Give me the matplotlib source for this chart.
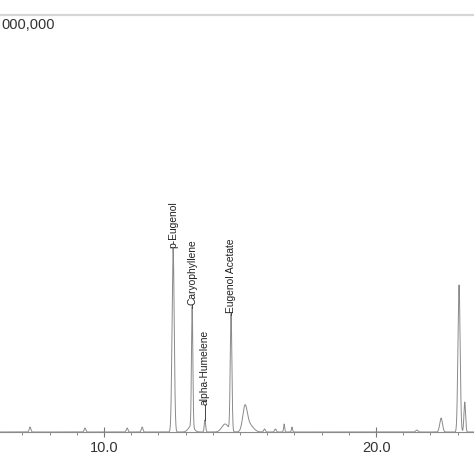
#!/usr/bin/env python3
"""GC chromatogram of clove oil constituents (recreated trace)."""

import matplotlib
matplotlib.use('Agg')
import matplotlib.pyplot as plt
from matplotlib.ticker import FixedLocator
import numpy as np

plt.rcParams.update({
    'font.family': ['Liberation Sans', 'DejaVu Sans'],
})

# Peak table (retention time in min, height and width in
# arbitrary intensity units / min)
peak_times = [7.28, 9.30, 10.85, 11.40, 12.54, 13.20, 13.24, 13.71, 14.45,
              14.67, 15.18, 15.32, 15.90, 16.30, 16.62, 16.91, 21.50,
              22.39, 23.05, 23.26]
peak_heights = [0.05, 0.04, 0.04, 0.05, 1.84, 0.06, 1.20, 0.12, 0.08,
                1.17, 0.22, 0.08, 0.03, 0.03, 0.08, 0.05, 0.02,
                0.14, 1.47, 0.30]
peak_widths = [0.03, 0.03, 0.03, 0.03, 0.04, 0.10, 0.025, 0.025, 0.12,
               0.03, 0.08, 0.15, 0.03, 0.03, 0.02, 0.02, 0.04,
               0.05, 0.04, 0.03]

# Annotated compounds
label_names = ['p-Eugenol', 'Caryophyllene', 'alpha-Humelene', 'Eugenol Acetate']
label_times = [12.54, 13.24, 13.71, 14.67]
label_peak = [1.84, 1.24, 0.12, 1.17]
label_top = [1.84, 1.27, 0.27, 1.19]

major_ticks = [10.0, 20.0]
minor_ticks = [7, 8, 9, 11, 12, 13, 14, 15, 16, 17, 18, 19, 21, 22, 23]

t = np.linspace(6.0, 24.0, 12000)
signal = np.zeros_like(t)
for t0, h, w in zip(peak_times, peak_heights, peak_widths):
    signal += h * np.exp(-0.5 * ((t - t0) / w) ** 2)

fig = plt.figure(figsize=(4.74, 4.74), dpi=100)
ax = fig.add_axes([0, 42 / 474, 1, 417 / 474])

ax.plot(t, signal, color='#8a8a8a', linewidth=0.7)

for name, x, yp, yl in zip(label_names, label_times, label_peak, label_top):
    ax.plot([x, x], [yp, yl], color='#444444', linewidth=0.7)
    ax.text(x, yl, name, rotation=90, ha='center', va='bottom',
            fontsize=7.4, color='#222222')

ax.set_xlim(6.176, 23.60)
ax.set_ylim(0, 4.17)

ax.xaxis.set_major_locator(FixedLocator(major_ticks))
ax.xaxis.set_minor_locator(FixedLocator(minor_ticks))
ax.set_xticklabels([f'{v:.1f}' for v in major_ticks])
ax.tick_params(axis='x', which='major', direction='inout', length=7,
               width=0.8, color='#777777', labelsize=10.5,
               labelcolor='#333333', pad=3)
ax.tick_params(axis='x', which='minor', direction='out', length=2.5,
               width=0.7, color='#888888')
ax.set_yticks([])

for side in ['left', 'right']:
    ax.spines[side].set_visible(False)
ax.spines['bottom'].set_color('#8a8a8a')
ax.spines['bottom'].set_linewidth(0.8)
ax.spines['top'].set_color('#d6d6d6')
ax.spines['top'].set_linewidth(1.6)

fig.text(0.002, 1 - 25 / 474, '000,000', ha='left', va='center',
         fontsize=10.5, color='#333333')

fig.savefig('out.png', dpi=100)
